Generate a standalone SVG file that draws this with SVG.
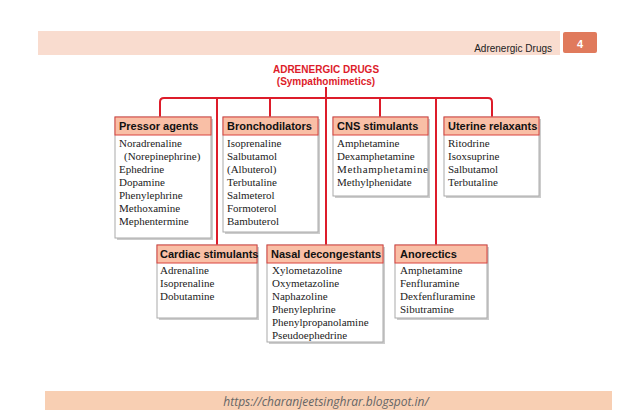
<svg xmlns="http://www.w3.org/2000/svg" width="632" height="416" viewBox="0 0 632 416">
<style>
.hd{fill:#f9bfa6;stroke:#d9423f;stroke-width:1}
.bd{fill:#fff;stroke:#aaa;stroke-width:1}
.sh{fill:#999;opacity:.5}
.ht{font-family:"Liberation Sans",Arial,sans-serif;font-weight:bold;font-size:11px;fill:#111}
.it{font-family:"Liberation Serif","Times New Roman",serif;font-size:11px;fill:#222}
.ln{fill:none;stroke:#dd1c2a;stroke-width:2}
</style>
<rect width="632" height="416" fill="#fff"/>
<rect x="38" y="31" width="522" height="24" fill="#f9dccf"/>
<text x="552" y="52" text-anchor="end" font-family="Liberation Sans,Arial,sans-serif" font-size="10" fill="#222">Adrenergic Drugs</text>
<rect x="563" y="32" width="34" height="21" rx="2" fill="#e07a5c"/>
<text x="580" y="48" text-anchor="middle" font-family="Liberation Sans,Arial,sans-serif" font-size="11" font-weight="bold" fill="#fff">4</text>
<g id="title">
<text x="326" y="73" text-anchor="middle" font-family="Liberation Sans,Arial,sans-serif" font-weight="bold" font-size="10" fill="#dd1c2a">ADRENERGIC DRUGS</text>
<text x="326" y="85" text-anchor="middle" font-family="Liberation Sans,Arial,sans-serif" font-weight="bold" font-size="10" fill="#dd1c2a">(Sympathomimetics)</text>
</g>
<g id="connectors">
<path class="ln" d="M160,117 V102 Q160,98 164,98 H488 Q492,98 492,102 V117"/>
<path class="ln" d="M326,87 V245"/>
<path class="ln" d="M270,98 V117 M380,98 V117 M217,98 V245 M436,98 V245"/>
</g>
<g id="pressor">
<rect class="sh" x="117" y="119" width="96" height="121"/>
<rect class="bd" x="115" y="117" width="96" height="121"/>
<rect class="hd" x="115" y="117" width="96" height="18"/>
<text class="ht" x="119" y="130">Pressor agents</text>
<text class="it" x="119" y="147">Noradrenaline</text>
<text class="it" x="124" y="160">(Norepinephrine)</text>
<text class="it" x="119" y="173">Ephedrine</text>
<text class="it" x="119" y="186">Dopamine</text>
<text class="it" x="119" y="199">Phenylephrine</text>
<text class="it" x="119" y="212">Methoxamine</text>
<text class="it" x="119" y="225">Mephentermine</text>
</g>
<g id="broncho">
<rect class="sh" x="225" y="119" width="95" height="115"/>
<rect class="bd" x="223" y="117" width="95" height="115"/>
<rect class="hd" x="223" y="117" width="95" height="18"/>
<text class="ht" x="227" y="130">Bronchodilators</text>
<text class="it" x="227" y="147">Isoprenaline</text>
<text class="it" x="227" y="160">Salbutamol</text>
<text class="it" x="227" y="173">(Albuterol)</text>
<text class="it" x="227" y="186">Terbutaline</text>
<text class="it" x="227" y="199">Salmeterol</text>
<text class="it" x="227" y="212">Formoterol</text>
<text class="it" x="227" y="225">Bambuterol</text>
</g>
<g id="cns">
<rect class="sh" x="335" y="119" width="95" height="79"/>
<rect class="bd" x="333" y="117" width="95" height="79"/>
<rect class="hd" x="333" y="117" width="95" height="18"/>
<text class="ht" x="337" y="130">CNS stimulants</text>
<text class="it" x="337" y="147">Amphetamine</text>
<text class="it" x="337" y="160">Dexamphetamine</text>
<text class="it" x="337" y="173" textLength="91">Methamphetamine</text>
<text class="it" x="337" y="186">Methylphenidate</text>
</g>
<g id="uterine">
<rect class="sh" x="446" y="119" width="95" height="79"/>
<rect class="bd" x="444" y="117" width="95" height="79"/>
<rect class="hd" x="444" y="117" width="95" height="18"/>
<text class="ht" x="448" y="130">Uterine relaxants</text>
<text class="it" x="448" y="147">Ritodrine</text>
<text class="it" x="448" y="160">Isoxsuprine</text>
<text class="it" x="448" y="173">Salbutamol</text>
<text class="it" x="448" y="186">Terbutaline</text>
</g>
<g id="cardiac">
<rect class="sh" x="159" y="247" width="100" height="73"/>
<rect class="bd" x="157" y="245" width="100" height="73"/>
<rect class="hd" x="157" y="245" width="100" height="18"/>
<text class="ht" x="160" y="258">Cardiac stimulants</text>
<text class="it" x="160" y="274">Adrenaline</text>
<text class="it" x="160" y="287">Isoprenaline</text>
<text class="it" x="160" y="300">Dobutamine</text>
</g>
<g id="nasal">
<rect class="sh" x="269" y="247" width="116" height="97"/>
<rect class="bd" x="267" y="245" width="116" height="97"/>
<rect class="hd" x="267" y="245" width="116" height="18"/>
<text class="ht" x="271" y="258">Nasal decongestants</text>
<text class="it" x="272" y="274">Xylometazoline</text>
<text class="it" x="272" y="287">Oxymetazoline</text>
<text class="it" x="272" y="300">Naphazoline</text>
<text class="it" x="272" y="313">Phenylephrine</text>
<text class="it" x="272" y="326">Phenylpropanolamine</text>
<text class="it" x="272" y="339">Pseudoephedrine</text>
</g>
<g id="anorectics">
<rect class="sh" x="397" y="247" width="92" height="73"/>
<rect class="bd" x="395" y="245" width="92" height="73"/>
<rect class="hd" x="395" y="245" width="92" height="18"/>
<text class="ht" x="400" y="258">Anorectics</text>
<text class="it" x="400" y="274">Amphetamine</text>
<text class="it" x="400" y="287">Fenfluramine</text>
<text class="it" x="400" y="300">Dexfenfluramine</text>
<text class="it" x="400" y="313">Sibutramine</text>
</g>
<rect x="45" y="391" width="567" height="19" fill="#f8cfb3"/>
<text x="326" y="406" text-anchor="middle" font-family="Open Sans,sans-serif" font-style="italic" font-size="12" fill="#666">https://charanjeetsinghrar.blogspot.in/</text>
</svg>
